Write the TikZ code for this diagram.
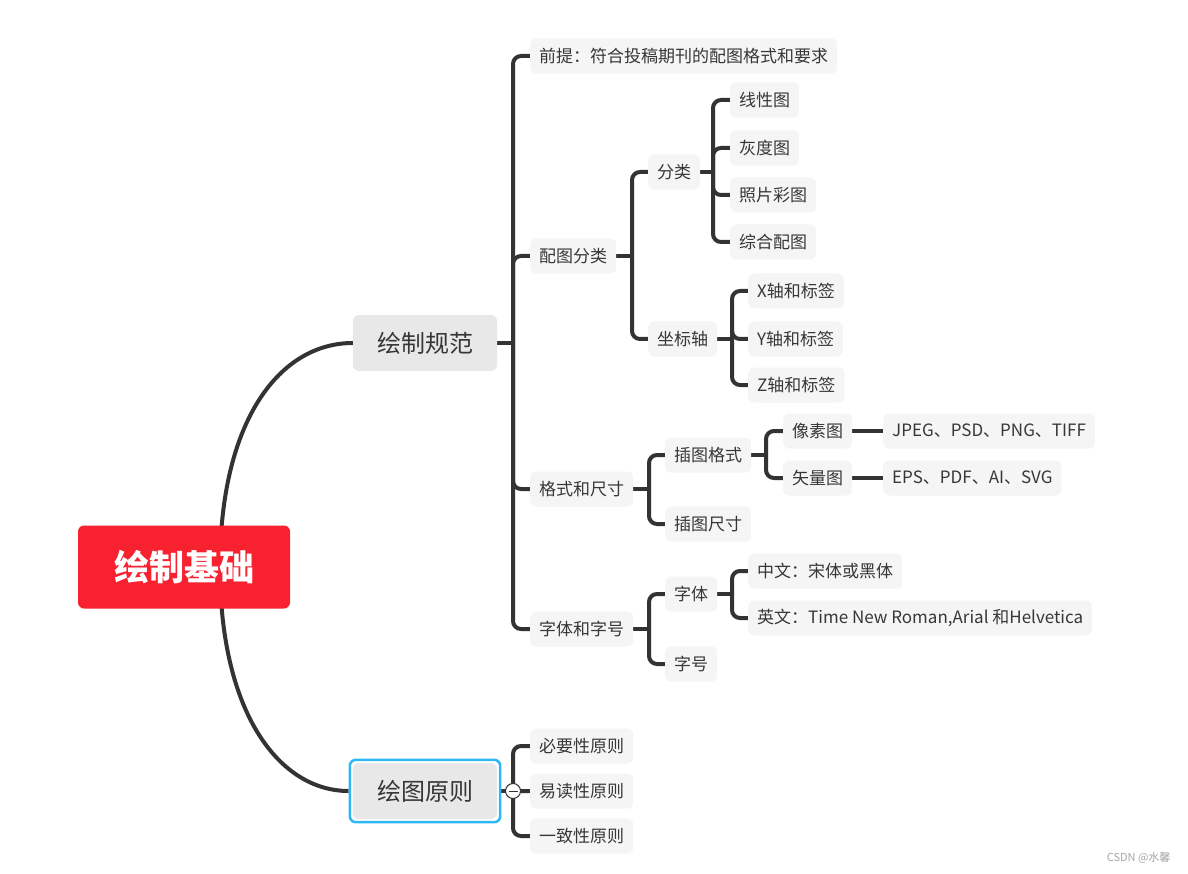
\documentclass[tikz,border=0pt]{standalone}
\usepackage{fontspec}
\setmainfont{Noto Sans CJK SC}
\usepackage{tikz}
\usetikzlibrary{calc,fit,backgrounds}
\definecolor{rootred}{RGB}{247,33,47}
\definecolor{topicgray}{RGB}{232,232,232}
\definecolor{leafgray}{RGB}{245,245,245}
\definecolor{linegray}{RGB}{51,51,51}
\definecolor{textgray}{RGB}{55,55,55}
\definecolor{selblue}{RGB}{45,183,245}
\definecolor{markgray}{RGB}{165,165,165}

\begin{document}
\begin{tikzpicture}[
    x=1pt, y=-1pt,
    root/.style={fill=rootred, rounded corners=6pt, minimum width=212pt, minimum height=83pt, text=white, font=\fontsize{35}{40}\selectfont\bfseries},
    topic/.style={fill=topicgray, rounded corners=6pt, minimum width=144pt, minimum height=56pt, text=textgray, font=\fontsize{24}{28}\selectfont},
    leaf/.style={fill=leafgray, rounded corners=6pt, minimum height=35pt, inner xsep=9pt, anchor=west, text=textgray, font=\fontsize{17}{20}\selectfont},
    branch/.style={draw=linegray, line width=4pt},
    fork/.style={branch, rounded corners=8pt}
]
\useasboundingbox (0,0) rectangle (1188,874);

% Root and main topics
\node[root] (root) at (184,567) {绘制基础};
\node[topic] (gz) at (425,343) {绘制规范};
\node[topic] (yz) at (425,791) {绘图原则};
\node[draw=selblue, line width=2.5pt, rounded corners=6pt, inner sep=3pt, fit=(yz)] (yzsel) {};

% Branch of gz
\node[leaf] (qt) at (530,56) {前提：符合投稿期刊的配图格式和要求};
\node[leaf] (ptfl) at (530,256) {配图分类};
\node[leaf] (gscc) at (530,489) {格式和尺寸};
\node[leaf] (ztzh) at (530,629) {字体和字号};

\node[leaf] (fl) at (648,172) {分类};
\node[leaf] (zbz) at (648,339) {坐标轴};
\node[leaf] (xxt) at (730,100) {线性图};
\node[leaf] (hdt) at (730,148) {灰度图};
\node[leaf] (zpct) at (730,195) {照片彩图};
\node[leaf] (zhpt) at (730,242) {综合配图};
\node[leaf] (xzhou) at (748,291) {X轴和标签};
\node[leaf] (yzhou) at (748,339) {Y轴和标签};
\node[leaf] (zzhou) at (748,385) {Z轴和标签};

\node[leaf] (chgs) at (665,455) {插图格式};
\node[leaf] (chcc) at (665,524) {插图尺寸};
\node[leaf] (xst) at (783,431) {像素图};
\node[leaf] (slt) at (783,478) {矢量图};
\node[leaf] (xsgs) at (883,431) {JPEG、PSD、PNG、TIFF};
\node[leaf] (slgs) at (883,478) {EPS、PDF、AI、SVG};

\node[leaf] (zt) at (665,594) {字体};
\node[leaf] (zh) at (665,664) {字号};
\node[leaf] (zw) at (748,571) {中文：宋体或黑体};
\node[leaf] (yw) at (748,618) {英文：Time New Roman,Arial 和Helvetica};

% Branch of yz
\node[leaf] (byx) at (530,746) {必要性原则};
\node[leaf] (ydx) at (530,791) {易读性原则};
\node[leaf] (yzx) at (530,836) {一致性原则};

% Watermark
\node[anchor=east, text=markgray, font=\fontsize{11}{13}\selectfont] (mark) at (1174,858) {CSDN @水馨};

% Fork points
\coordinate (root-s) at ($(root.center)+(36,0)$);
\coordinate (gz-s) at (513,343);
\coordinate (ptfl-s) at (632,256);
\coordinate (fl-s) at (713,172);
\coordinate (zbz-s) at (732,339);
\coordinate (gscc-s) at (649,489);
\coordinate (chgs-s) at (766,455);
\coordinate (ztzh-s) at (649,629);
\coordinate (zt-s) at (732,594);
\coordinate (yz-s) at (513,791);

\begin{scope}[on background layer]
% Curves from the root
\draw[branch] (root-s) .. controls (220,420) and (280,343) .. (gz.west);
\draw[branch] (root-s) .. controls (220,714) and (280,791) .. (yzsel.west);

% gz
\draw[branch] (gz.east) -- (gz-s);
\draw[fork] (gz-s) |- (qt.west);
\draw[fork] (gz-s) |- (ptfl.west);
\draw[fork] (gz-s) |- (gscc.west);
\draw[fork] (gz-s) |- (ztzh.west);

% ptfl
\draw[branch] (ptfl.east) -- (ptfl-s);
\draw[fork] (ptfl-s) |- (fl.west);
\draw[fork] (ptfl-s) |- (zbz.west);
\draw[branch] (fl.east) -- (fl-s);
\draw[fork] (fl-s) |- (xxt.west);
\draw[fork] (fl-s) |- (hdt.west);
\draw[fork] (fl-s) |- (zpct.west);
\draw[fork] (fl-s) |- (zhpt.west);
\draw[branch] (zbz.east) -- (zbz-s);
\draw[fork] (zbz-s) |- (xzhou.west);
\draw[fork] (zbz-s) |- (yzhou.west);
\draw[fork] (zbz-s) |- (zzhou.west);

% gscc
\draw[branch] (gscc.east) -- (gscc-s);
\draw[fork] (gscc-s) |- (chgs.west);
\draw[fork] (gscc-s) |- (chcc.west);
\draw[branch] (chgs.east) -- (chgs-s);
\draw[fork] (chgs-s) |- (xst.west);
\draw[fork] (chgs-s) |- (slt.west);
\draw[branch] (xst.east) -- (xsgs.west);
\draw[branch] (slt.east) -- (slgs.west);

% ztzh
\draw[branch] (ztzh.east) -- (ztzh-s);
\draw[fork] (ztzh-s) |- (zt.west);
\draw[fork] (ztzh-s) |- (zh.west);
\draw[branch] (zt.east) -- (zt-s);
\draw[fork] (zt-s) |- (zw.west);
\draw[fork] (zt-s) |- (yw.west);

% yz
\draw[branch] (yzsel.east) -- (yz-s);
\draw[fork] (yz-s) |- (byx.west);
\draw[fork] (yz-s) |- (ydx.west);
\draw[fork] (yz-s) |- (yzx.west);
\end{scope}

% Collapse mark
\node[circle, draw=linegray, line width=1pt, fill=white, minimum size=15pt, inner sep=0pt] (fold) at (yz-s) {};
\draw[linegray, line width=1pt] ([xshift=-4.5pt]fold.center) -- ([xshift=4.5pt]fold.center);
\end{tikzpicture}
\end{document}
